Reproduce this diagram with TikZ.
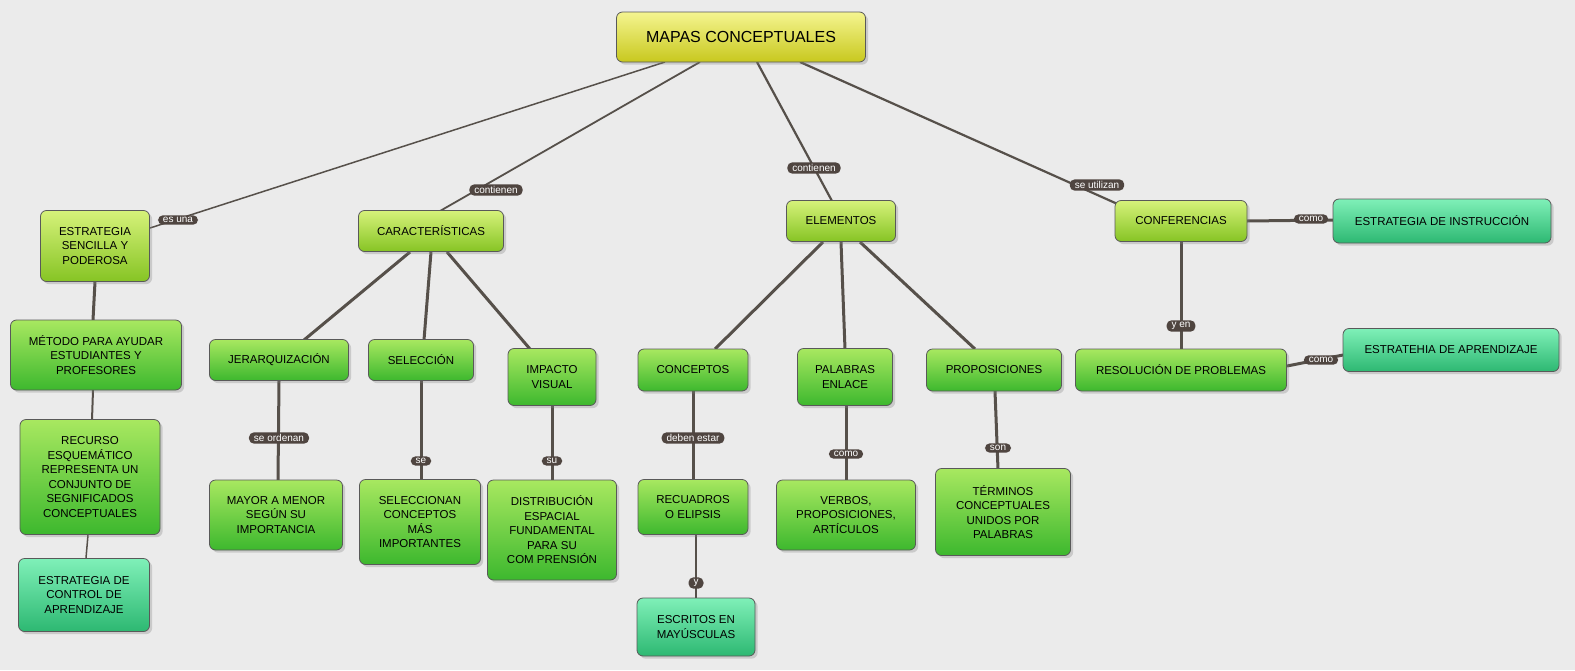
\documentclass[tikz,border=0pt]{standalone}
\usepackage{fontspec}
\setmainfont{Liberation Sans}
\usetikzlibrary{shadows}
\definecolor{gT}{HTML}{A8E860}\definecolor{gB}{HTML}{3DB82E}
\definecolor{yT}{HTML}{D6F27A}\definecolor{yB}{HTML}{86C424}
\definecolor{tT}{HTML}{7FF0B8}\definecolor{tB}{HTML}{2DB872}
\definecolor{mT}{HTML}{F5F590}\definecolor{mB}{HTML}{C8C81E}
\definecolor{lnc}{HTML}{56504A}\definecolor{labc}{HTML}{4F4540}
\begin{document}
\begin{tikzpicture}[x=1pt,y=-1pt,
 box/.style 2 args={draw=black!65,line width=0.8pt,rounded corners=6pt,top color=#1,bottom color=#2,align=center,font=\fontsize{11.5}{14.5}\selectfont,inner sep=3pt,drop shadow={opacity=0.3}},
 g/.style={box={gT}{gB}},
 yg/.style={box={yT}{yB}},
 tq/.style={box={tT}{tB}},
 lab/.style={fill=labc,text=white,rounded corners=5pt,inner xsep=5pt,inner ysep=2pt,font=\fontsize{10}{11}\selectfont},
 ln/.style={draw=lnc,line width=#1},
 ln/.default=3pt]
\fill[black!8] (0,0) rectangle (1575,670);
\useasboundingbox (0,0) rectangle (1575,670);
\coordinate (m1) at (665,62); \coordinate (m2) at (700,62); \coordinate (m3) at (757,62); \coordinate (m4) at (800,62);
\draw[ln=1.5pt] (m1) -- (150,228);
\draw[ln=1.8pt] (m2) -- (440,211);
\draw[ln=2.2pt] (m3) -- (832,201);
\draw[ln=2.2pt] (m4) -- (1122,206);
\draw[ln] (95,282) -- (93,320);
\draw[ln=2pt] (93,390) -- (92,420);
\draw[ln=1.5pt] (88,535) -- (86,558);
\draw[ln] (410,252) -- (304,340);
\draw[ln] (431,252) -- (424,340);
\draw[ln] (447,252) -- (530,349);
\draw[ln] (279,381) -- (278,480);
\draw[ln] (421,381) -- (421,480);
\draw[ln] (552,406) -- (552,480);
\draw[ln] (823,242) -- (715,349);
\draw[ln] (841,242) -- (845,349);
\draw[ln] (860,242) -- (975,349);
\draw[ln] (693,391) -- (693,480);
\draw[ln=2pt] (696,535) -- (696,598);
\draw[ln] (846,406) -- (846,480);
\draw[ln] (995,391) -- (998,469);
\draw[ln] (1247,221) -- (1333,220);
\draw[ln] (1181,242) -- (1181,349);
\draw[ln] (1287,366) -- (1343,355);
\node[box={mT}{mB},minimum width=249pt,minimum height=50pt,font=\fontsize{16}{18}\selectfont] (map) at (741,37) {MAPAS CONCEPTUALES};
\node[yg,minimum width=109pt,minimum height=71pt] (est) at (95,246) {ESTRATEGIA\\SENCILLA Y\\PODEROSA};
\node[yg,minimum width=145pt,minimum height=41pt] (car) at (431,231) {CARACTERÍSTICAS};
\node[yg,minimum width=109pt,minimum height=41pt] (ele) at (841,221) {ELEMENTOS};
\node[yg,minimum width=132pt,minimum height=41pt] (con) at (1181,221) {CONFERENCIAS};
\node[tq,minimum width=218pt,minimum height=44pt] (ins) at (1442,221) {ESTRATEGIA DE INSTRUCCIÓN};
\node[g,minimum width=171pt,minimum height=70pt] (met) at (96,355) {MÉTODO PARA AYUDAR\\ESTUDIANTES Y\\PROFESORES};
\node[g,minimum width=140pt,minimum height=115pt] (rec) at (90,477) {RECURSO\\ESQUEMÁTICO\\REPRESENTA UN\\CONJUNTO DE\\SEGNIFICADOS\\CONCEPTUALES};
\node[tq,minimum width=131pt,minimum height=73pt] (ctl) at (84,595) {ESTRATEGIA DE\\CONTROL DE\\APRENDIZAJE};
\node[g,minimum width=139pt,minimum height=41pt] (jer) at (279,360) {JERARQUIZACIÓN};
\node[g,minimum width=105pt,minimum height=41pt] (sel) at (421,360) {SELECCIÓN};
\node[g,minimum width=88pt,minimum height=57pt] (imp) at (552,377) {IMPACTO\\VISUAL};
\node[g,minimum width=110pt,minimum height=42pt] (cpt) at (693,370) {CONCEPTOS};
\node[g,minimum width=95pt,minimum height=57pt] (pal) at (845,377) {PALABRAS\\ENLACE};
\node[g,minimum width=135pt,minimum height=42pt] (pro) at (994,370) {PROPOSICIONES};
\node[g,minimum width=211pt,minimum height=42pt] (res) at (1181,370) {RESOLUCIÓN DE PROBLEMAS};
\node[tq,minimum width=216pt,minimum height=43pt] (apr) at (1451,350) {ESTRATEHIA DE APRENDIZAJE};
\node[g,minimum width=133pt,minimum height=70pt] (may) at (276,515) {MAYOR A MENOR\\SEGÚN SU\\IMPORTANCIA};
\node[g,minimum width=121pt,minimum height=85pt] (scc) at (420,522) {SELECCIONAN\\CONCEPTOS\\MÁS\\IMPORTANTES};
\node[g,minimum width=129pt,minimum height=100pt] (dis) at (552,530) {DISTRIBUCIÓN\\ESPACIAL\\FUNDAMENTAL\\PARA SU\\COM PRENSIÓN};
\node[g,minimum width=110pt,minimum height=55pt] (rcu) at (693,507) {RECUADROS\\O ELIPSIS};
\node[g,minimum width=139pt,minimum height=70pt] (ver) at (846,515) {VERBOS,\\PROPOSICIONES,\\ARTÍCULOS};
\node[g,minimum width=135pt,minimum height=87pt] (ter) at (1003,512) {TÉRMINOS\\CONCEPTUALES\\UNIDOS POR\\PALABRAS};
\node[tq,minimum width=118pt,minimum height=58pt] (esc) at (696,627) {ESCRITOS EN\\MAYÚSCULAS};
\node[lab] (l1) at (178,220) {es una};
\node[lab] (l2) at (496,190) {contienen};
\node[lab] (l3) at (814,168) {contienen};
\node[lab] (l4) at (1097,185) {se utilizan};
\node[lab] (l5) at (1311,219) {como};
\node[lab] (l6) at (1181,326) {y en};
\node[lab] (l7) at (1321,360) {como};
\node[lab] (l8) at (279,438) {se ordenan};
\node[lab] (l9) at (421,461) {se};
\node[lab] (l10) at (552,461) {su};
\node[lab] (l11) at (693,438) {deben estar};
\node[lab] (l12) at (696,583) {y};
\node[lab] (l13) at (846,454) {como};
\node[lab] (l14) at (998,448) {son};
\end{tikzpicture}
\end{document}
